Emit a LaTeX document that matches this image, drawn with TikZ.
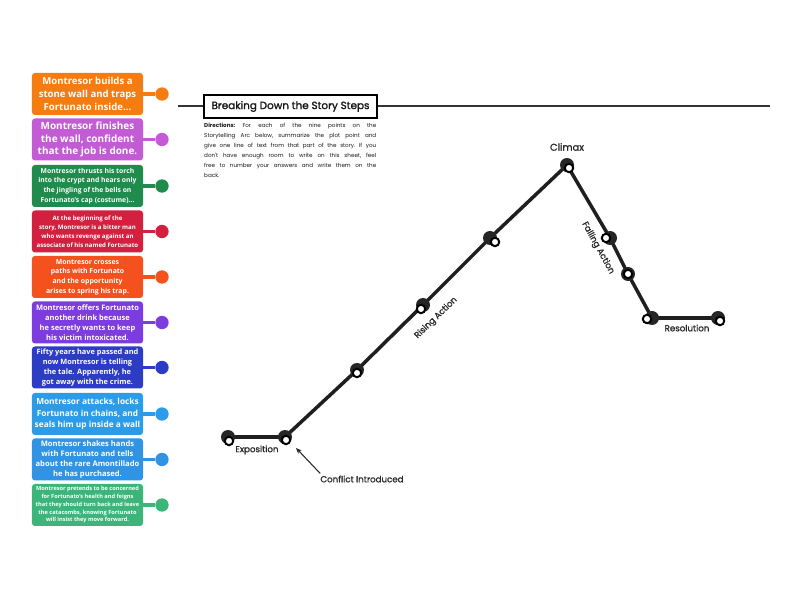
\documentclass[tikz,border=0pt]{standalone}
\usepackage{fontspec}
\setmainfont{Open Sans}
\newfontfamily\arcfont{Poppins}
\newfontfamily\labelfont[FakeBold=1.2]{Poppins}
\newfontfamily\titlefont[FakeBold=1.6]{Poppins}
\usetikzlibrary{arrows.meta}

\definecolor{cardone}{HTML}{F57C10}
\definecolor{cardtwo}{HTML}{C25BD4}
\definecolor{cardthree}{HTML}{1F8B4C}
\definecolor{cardfour}{HTML}{D3203F}
\definecolor{cardfive}{HTML}{F4511E}
\definecolor{cardsix}{HTML}{7D3CE0}
\definecolor{cardseven}{HTML}{2C3CC4}
\definecolor{cardeight}{HTML}{2D9CE8}
\definecolor{cardnine}{HTML}{3093E3}
\definecolor{cardten}{HTML}{3CB57A}

\newcommand{\cardsize}[2]{\fontsize{#1pt}{#2pt}\selectfont}

\tikzset{
  card/.style={rounded corners=2.5pt, minimum width=3.33cm, minimum height=1.26cm,
    text=white, align=center, inner sep=0pt},
  cardlink/.style={line width=3pt},
  cardknob/.style={circle, minimum size=0.4cm, inner sep=0pt},
  arcline/.style={line width=3pt, draw=black!88, line join=round},
  arclabel/.style={font=\labelfont\cardsize{7.4}{9}, text=black!85, inner sep=0pt},
  headrule/.style={line width=1.7pt, draw=black!80},
}

\begin{document}
\begin{tikzpicture}[x=0.03cm, y=-0.03cm]
\useasboundingbox (0,0) rectangle (800,600);
% Plot point cards
\node[card, fill=cardone, font=\bfseries\cardsize{8.2}{11}] (wall) at (87.5,94)
  {Montresor builds a\\stone wall and traps\\Fortunato inside\ldots};
\node[card, fill=cardtwo, font=\bfseries\cardsize{8.5}{11}] (finish) at (87.5,139.5)
  {Montresor finishes\\the wall, confident\\that the job is done.};
\node[card, fill=cardthree, font=\bfseries\cardsize{5.8}{8.2}] (torch) at (87.5,186)
  {Montresor thrusts his torch\\into the crypt and hears only\\the jingling of the bells on\\Fortunato's cap (costume)\ldots};
\node[card, fill=cardfour, font=\bfseries\cardsize{5.2}{7.6}] (begin) at (87.5,231.5)
  {At the beginning of the\\story, Montresor is a bitter man\\who wants revenge against an\\associate of his named Fortunato};
\node[card, fill=cardfive, font=\bfseries\cardsize{5.9}{8.2}] (cross) at (87.5,277)
  {Montresor crosses\\paths with Fortunato\\and the opportunity\\arises to spring his trap.};
\node[card, fill=cardsix, font=\bfseries\cardsize{6.4}{8.4}] (drink) at (87.5,322.5)
  {Montresor offers Fortunato\\another drink because\\he secretly wants to keep\\his victim intoxicated.};
\node[card, fill=cardseven, font=\bfseries\cardsize{6.3}{8.4}] (fifty) at (87.5,367.5)
  {Fifty years have passed and\\now Montresor is telling\\the tale. Apparently, he\\got away with the crime.};
\node[card, fill=cardeight, font=\bfseries\cardsize{7.1}{10}] (attack) at (87.5,414)
  {Montresor attacks, locks\\Fortunato in chains, and\\seals him up inside a wall};
\node[card, fill=cardnine, font=\bfseries\cardsize{6.5}{8.4}] (shake) at (87.5,459.5)
  {Montresor shakes hands\\with Fortunato and tells\\about the rare Amontillado\\he has purchased.};
\node[card, fill=cardten, font=\bfseries\cardsize{4.8}{6.6}] (pretend) at (87.5,505)
  {Montresor pretends to be concerned\\for Fortunato's health and feigns\\that they should turn back and leave\\the catacombs, knowing Fortunato\\will insist they move forward.};
% Knobs on the right of each card
\foreach \c/\col in {wall/cardone, finish/cardtwo, torch/cardthree, begin/cardfour,
    cross/cardfive, drink/cardsix, fifty/cardseven, attack/cardeight,
    shake/cardnine, pretend/cardten} {
  \node[cardknob, fill=\col] (\c knob) at (162,0 |- \c.center) {};
  \draw[cardlink, \col] (\c.east) -- (\c knob);
}

% Header
\draw[headrule] (178,106) -- (770,106);
\node[draw=black, line width=1.3pt, fill=white, minimum width=5.19cm, minimum height=0.69cm,
  inner sep=0pt, font=\titlefont\cardsize{8.9}{10}, text=black!90] (title) at (290.5,106.5)
  {Breaking Down the Story Steps};
\node[anchor=north west, text width=5.16cm, align=justify, inner sep=0pt,
  font=\arcfont\frenchspacing\cardsize{4.8}{8.5}, text=black!90] (directions) at (204,123)
  {\textbf{Directions:} For each of the nine points on the\linebreak
   Storytelling Arc below, summarize the plot point and\linebreak
   give one line of text from that part of the story. If you\linebreak
   don't have enough room to write on this sheet, feel\linebreak
   free to number your answers and write them on the\linebreak
   back.};

% Storytelling arc
\coordinate (e1) at (228,437);
\coordinate (e2) at (285,437);
\coordinate (r1) at (357,370);
\coordinate (r2) at (423,305);
\coordinate (r3) at (490,238);
\coordinate (cl) at (567,165);
\coordinate (f1) at (610,238);
\coordinate (f2) at (628,274);
\coordinate (f3) at (652,318);
\coordinate (rs) at (718,318);
\draw[arcline] (e1) -- (e2) -- (r1) -- (r2) -- (r3) -- (cl) -- (f1) -- (f2) -- (f3) -- (rs);
\foreach \p/\dx/\dy in {e1/1/4, e2/1/3, r1/0/3, r2/-2/4, r3/5/4, cl/2/3,
    f1/-4/0, f2/0/0, f3/-5/1, rs/2/3} {
  \fill[black!85] (\p) circle (7);
  \filldraw[fill=white, draw=black, line width=1.7pt] ([shift={(\dx,\dy)}]\p) circle (4.2);
}

% Arc labels
\node[arclabel, font=\labelfont\cardsize{8.4}{10}] (climax) at (567,147) {Climax};
\node[arclabel] (exposition) at (257,450) {Exposition};
\node[arclabel] (conflict) at (362,479) {Conflict Introduced};
\node[arclabel, rotate=44] (rising) at (436,318) {Rising Action};
\node[arclabel, rotate=-61] (falling) at (598,248) {Falling Action};
\node[arclabel] (resolution) at (687,328) {Resolution};
\coordinate (cftip) at (296,448);
\draw[line width=0.9pt, black!85, -{Stealth[length=5pt, width=4pt]}]
  ([shift={(0,-2)}]conflict.north west) -- (cftip);
\end{tikzpicture}
\end{document}
